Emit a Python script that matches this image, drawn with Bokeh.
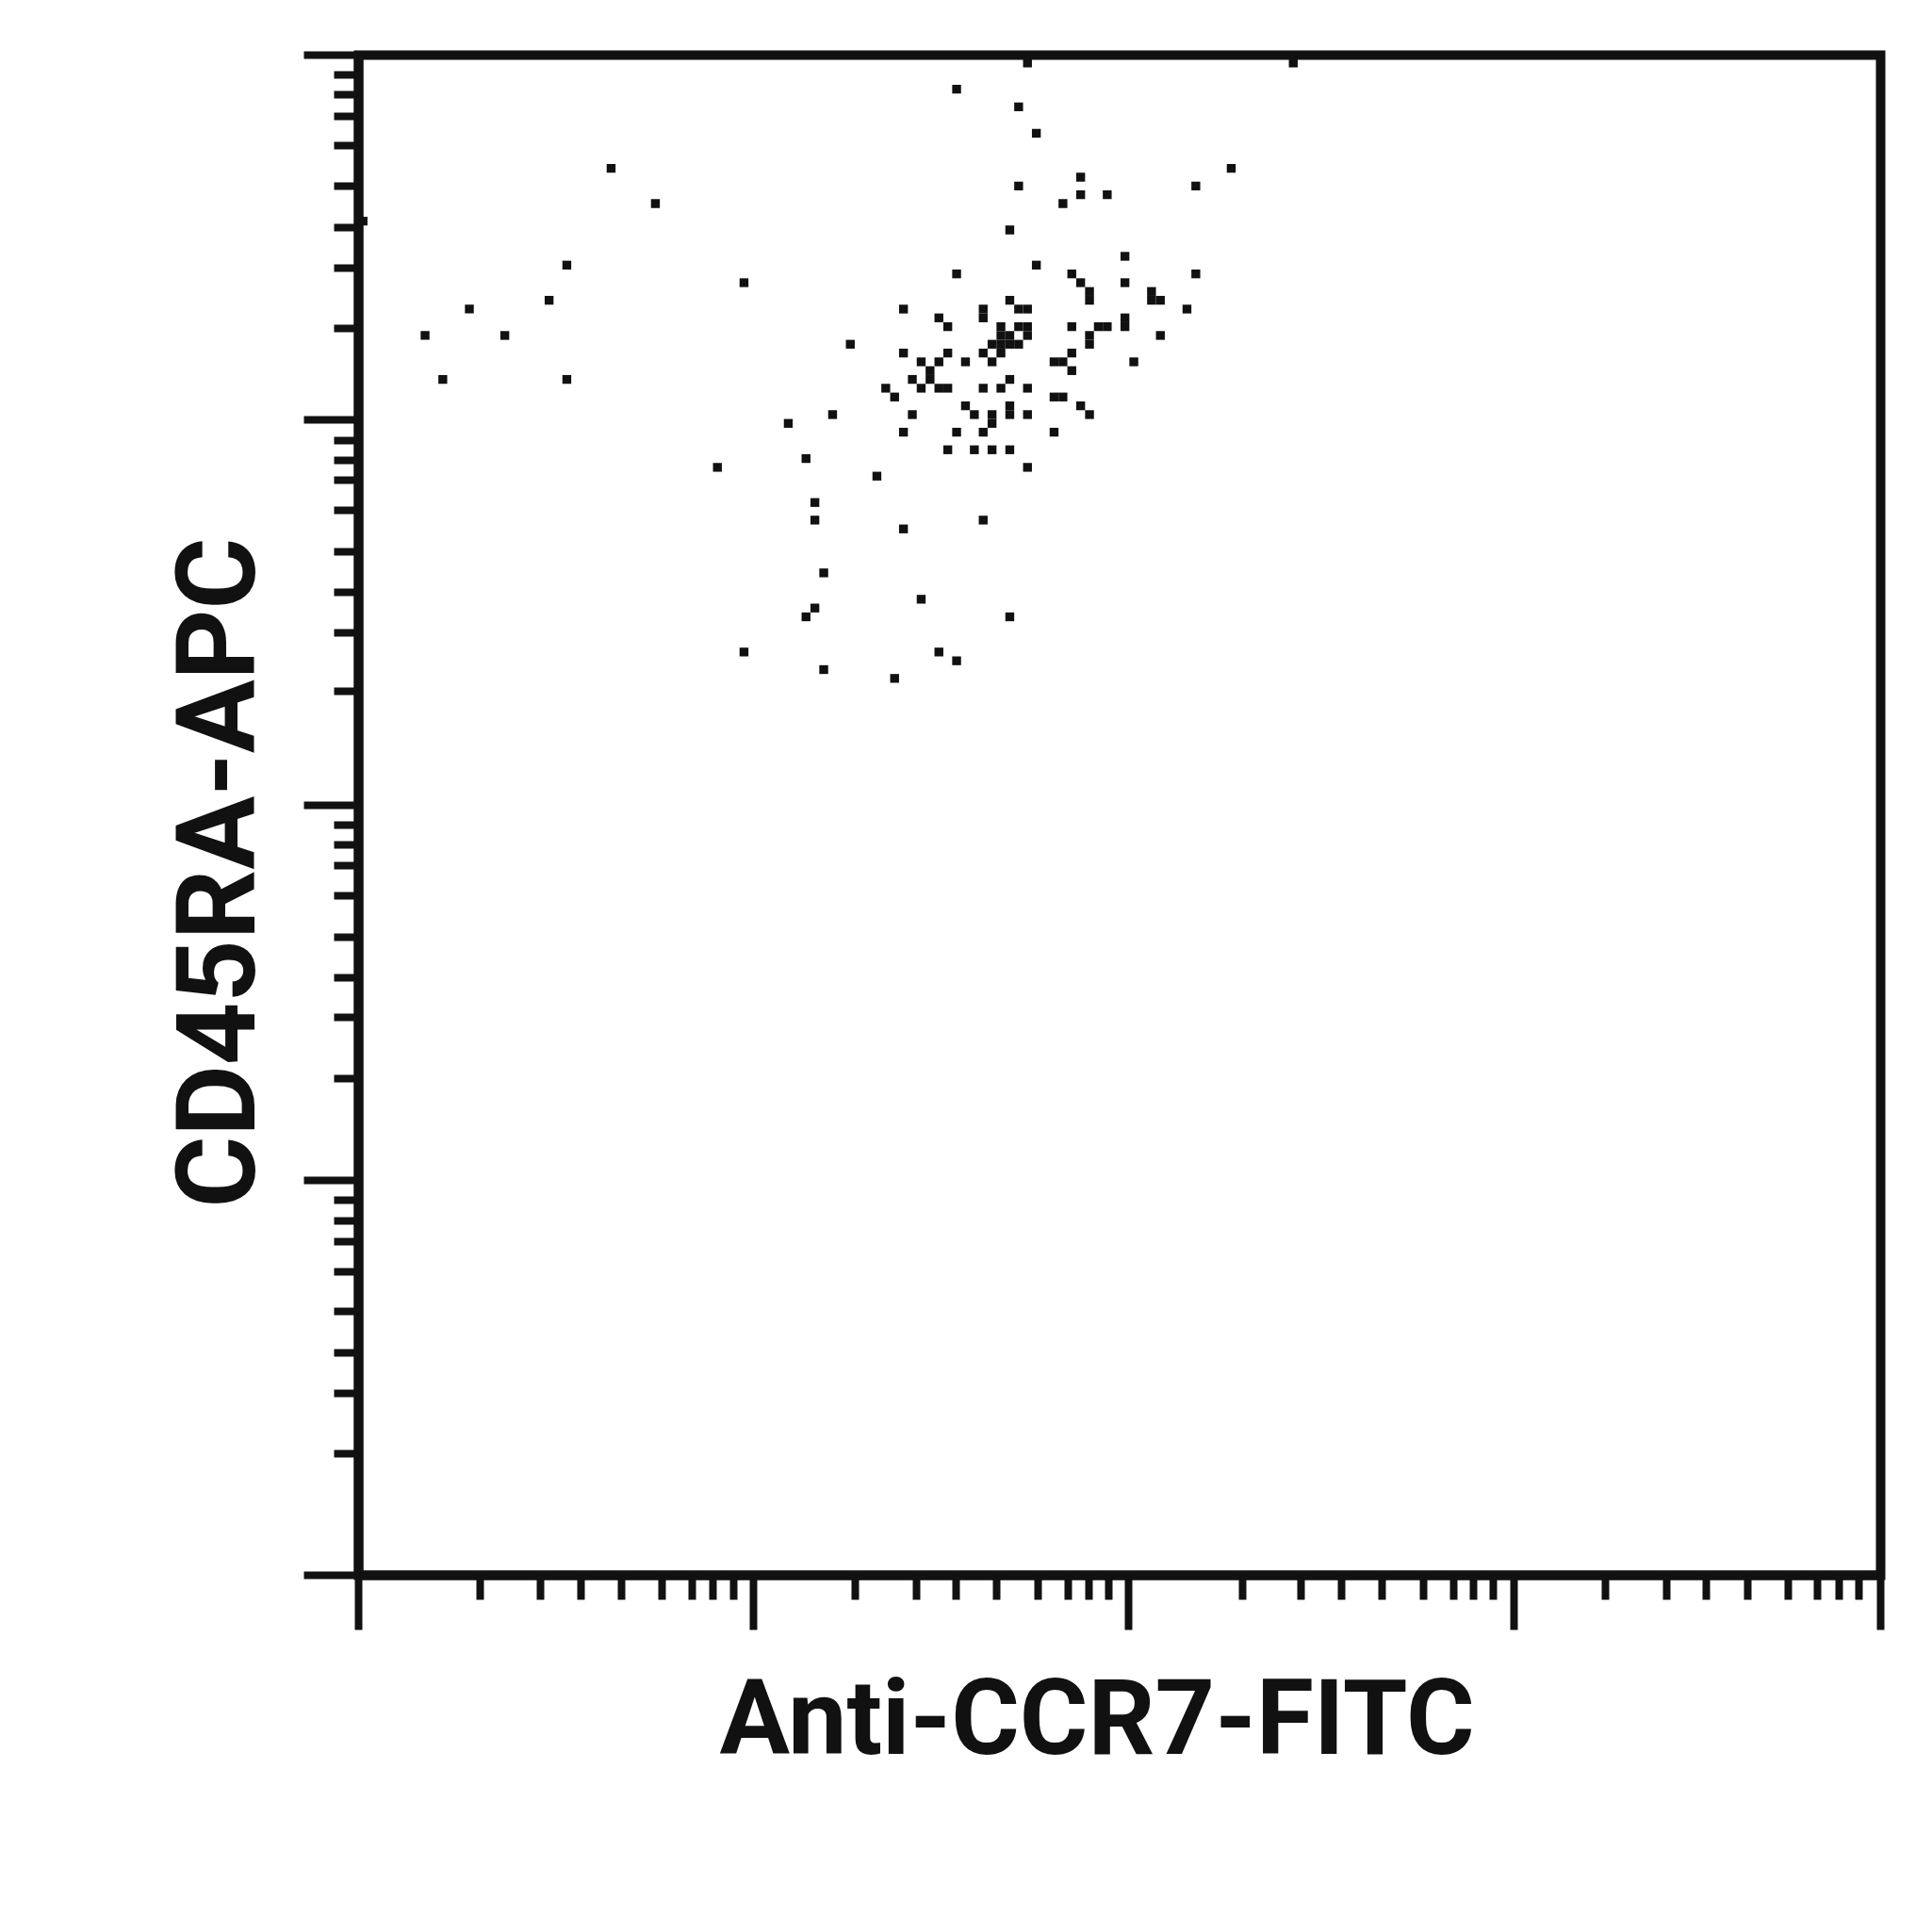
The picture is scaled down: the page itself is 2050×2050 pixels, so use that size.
import math
from bokeh.plotting import figure
from bokeh.models import Range1d, FixedTicker, Title, CustomLabelingPolicy
from bokeh.embed import file_html
from bokeh.resources import INLINE

# Binned events of the dot plot (display-bin index on each axis)
ccr7_bin = [0, 7, 9, 12, 16, 21, 23, 23, 28, 33,
            40, 43, 43, 48, 50, 50, 51, 51, 51, 52,
            52, 53, 55, 58, 59, 60, 60, 61, 61, 61,
            61, 62, 62, 63, 63, 63, 64, 64, 65, 65,
            65, 65, 66, 66, 66, 66, 67, 67, 67, 67,
            68, 68, 69, 69, 70, 70, 70, 70, 70, 70,
            71, 71, 71, 71, 71, 72, 72, 72, 72, 72,
            73, 73, 73, 73, 73, 73, 73, 73, 73, 74,
            74, 74, 74, 74, 75, 75, 75, 75, 75, 75,
            75, 76, 76, 78, 78, 78, 79, 79, 79, 80,
            80, 80, 80, 81, 81, 81, 81, 82, 82, 82,
            82, 82, 83, 84, 84, 86, 86, 86, 86, 87,
            89, 89, 90, 90, 93, 94, 94, 98, 105]
cd45ra_bin = [154, 141, 136, 144, 141, 145, 149, 136, 160, 156,
              126, 147, 105, 131, 127, 109, 122, 120, 110, 114,
              103, 132, 140, 125, 135, 134, 102, 144, 139, 130,
              119, 136, 132, 138, 135, 111, 137, 136, 143, 138,
              135, 105, 142, 139, 135, 128, 169, 148, 130, 104,
              138, 133, 132, 128, 144, 143, 139, 135, 130, 120,
              140, 138, 132, 131, 128, 142, 141, 140, 139, 135,
              153, 145, 141, 140, 136, 133, 132, 128, 109, 167,
              158, 144, 142, 140, 172, 144, 142, 141, 135, 132,
              126, 164, 149, 138, 134, 130, 156, 138, 134, 148,
              142, 139, 137, 159, 157, 147, 133, 146, 145, 141,
              140, 132, 142, 157, 142, 150, 147, 143, 142, 138,
              146, 145, 145, 141, 144, 158, 148, 160, 172]

# Decade marks of the (log-like) display, in bin units
x_major = [-0.503, 44.05, 86.40, 129.89, 171.30]
x_minor = [13.18, 20.03, 24.60, 29.23, 33.79, 37.19, 39.52, 41.86,
           55.58, 62.46, 66.97, 71.52, 76.20, 79.59, 81.90, 84.21,
           99.24, 105.88, 110.43, 115.03, 119.68, 123.07, 125.37, 127.58,
           140.19, 147.10, 151.65, 156.25, 160.83, 164.22, 166.65, 168.84]
y_major = [0.0, 44.89, 87.56, 131.37, 172.88]
y_minor = [13.78, 20.69, 25.29, 29.96, 34.56, 37.97, 40.32, 42.68,
           56.51, 63.44, 67.97, 72.56, 77.28, 80.70, 83.02, 85.35,
           100.49, 107.18, 111.77, 116.40, 121.08, 124.50, 126.82, 129.05,
           141.75, 148.71, 153.29, 157.93, 162.54, 165.96, 168.40, 170.61]

x_title = "Anti-CCR7-FITC"
y_title = "CD45RA-APC"

INK = "#111111"
W = H = 2030
FL, FT, FW, FH = 380, 58, 1615, 1613

p = figure(width=W, height=H, output_backend="svg", toolbar_location=None,
           x_range=Range1d(x_major[0], x_major[-1]),
           y_range=Range1d(y_major[0], y_major[-1]),
           min_border_left=FL, min_border_right=W - FL - FW,
           min_border_top=FT, min_border_bottom=H - FT - FH)

p.rect(x=ccr7_bin, y=cd45ra_bin, width=1, height=1,
       fill_color=INK, line_color=None)

p.grid.visible = False
p.background_fill_color = "white"
p.border_fill_color = "white"
p.outline_line_color = INK
p.outline_line_width = 10
p.outline_line_join = "miter"

hide_all = CustomLabelingPolicy(code="""
for (const i of indices) { indices.unset(i) }
return indices
""")

for ax, major, minor in ((p.xaxis[0], x_major, x_minor), (p.yaxis[0], y_major, y_minor)):
    ax.ticker = FixedTicker(ticks=major, minor_ticks=minor)
    ax.axis_line_width = 10
    ax.axis_line_color = INK
    ax.major_tick_line_width = 8
    ax.major_tick_line_color = INK
    ax.major_tick_in = 0
    ax.major_tick_out = 58
    ax.minor_tick_line_width = 8
    ax.minor_tick_line_color = INK
    ax.minor_tick_in = 0
    ax.minor_tick_out = 26
    ax.major_label_text_font_size = "0px"
    ax.major_label_standoff = 0
    ax.major_label_policy = hide_all

# Axis titles as side-panel titles (so they can sit off-centre like the original)
p.add_layout(Title(text=x_title, align="left", offset=383, standoff=56,
                   vertical_align="top",
                   text_font="Roboto", text_font_style="bold",
                   text_font_size="111px", text_color=INK), "below")
p.add_layout(Title(text=y_title, align="left", offset=390, standoff=50,
                   vertical_align="bottom",
                   text_font="Roboto", text_font_style="bold",
                   text_font_size="116px", text_color=INK), "left")

open("out.html", "w").write(file_html(p, INLINE))
